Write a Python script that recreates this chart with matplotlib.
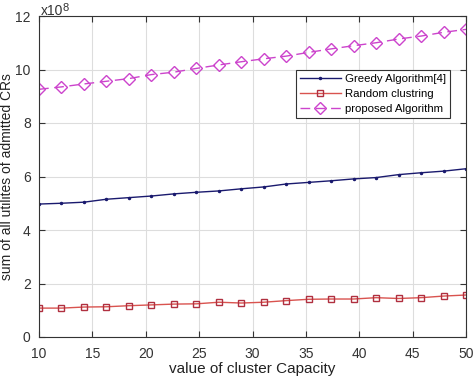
import numpy as np
import matplotlib
matplotlib.use("Agg")
import matplotlib.pyplot as plt

capacity = np.linspace(10, 50, 20)
greedy = [4.97, 5.00, 5.04, 5.15, 5.21, 5.27, 5.35, 5.41, 5.46, 5.54, 5.61, 5.72, 5.78, 5.84, 5.91, 5.96, 6.07, 6.14, 6.20, 6.29]
random_cl = [1.08, 1.08, 1.12, 1.13, 1.17, 1.20, 1.23, 1.24, 1.30, 1.27, 1.30, 1.36, 1.41, 1.42, 1.42, 1.47, 1.44, 1.47, 1.53, 1.57]
proposed = [9.26, 9.35, 9.46, 9.56, 9.66, 9.81, 9.90, 10.04, 10.17, 10.29, 10.40, 10.50, 10.64, 10.77, 10.89, 11.00, 11.14, 11.25, 11.39, 11.50]
xticks = [10, 15, 20, 25, 30, 35, 40, 45, 50]
yticks = [0, 2, 4, 6, 8, 10, 12]

plt.rcParams['font.family'] = ['Liberation Sans', 'DejaVu Sans']
fig = plt.figure(figsize=(4.74, 3.77), dpi=100)
ax = fig.add_axes([39/474, 1 - 337/377, (466-39)/474, (337-16)/377])

ax.plot(capacity, greedy, color='#1a1a6e', lw=1.0, marker='.', ms=3, label='Greedy Algorithm[4]')
ax.plot(capacity, random_cl, color='#d9534f', lw=1.0, marker='s', ms=5, mfc='none', mec='#b03040', label='Random clustring')
ax.plot(capacity, proposed, color='#cc44cc', lw=1.0, ls=(0, (7, 4)), marker='D', ms=6, mfc='none', mec='#cc44cc', label='proposed Algorithm')

ax.set_xlim(10, 50)
ax.set_ylim(0, 12)
ax.set_xticks(xticks)
ax.set_yticks(yticks)
ax.grid(True, color='#dddddd', lw=0.8)
ax.tick_params(direction='in', labelsize=10, colors='#333333', length=4, top=True, right=True, labeltop=False, labelright=False)
ax.tick_params(axis='x', pad=7)
ax.tick_params(axis='y', pad=6)
for sp in ax.spines.values():
    sp.set_color('#333333')
fig.text(41/474, 1 - 15/377, 'x10', fontsize=10, color='#333333', va='baseline', ha='left')
fig.text(63/474, 1 - 11/377, '8', fontsize=8, color='#333333', va='baseline', ha='left')
ax.set_xlabel('value of cluster Capacity', fontsize=11, color='#222222', labelpad=1)
ax.set_ylabel('sum of all utilites of admitted CRs', fontsize=10, color='#222222')
ax.yaxis.set_label_coords(-0.058, 0.5)
leg = ax.legend(loc='upper right', bbox_to_anchor=(0.976, 0.85), fontsize=8.2, fancybox=False, framealpha=1,
                edgecolor='#333333', borderpad=0.35, labelspacing=0.45, handlelength=3.6, handletextpad=0.4,
                numpoints=1)
leg.get_frame().set_linewidth(0.8)

fig.savefig('out.png', dpi=100)
